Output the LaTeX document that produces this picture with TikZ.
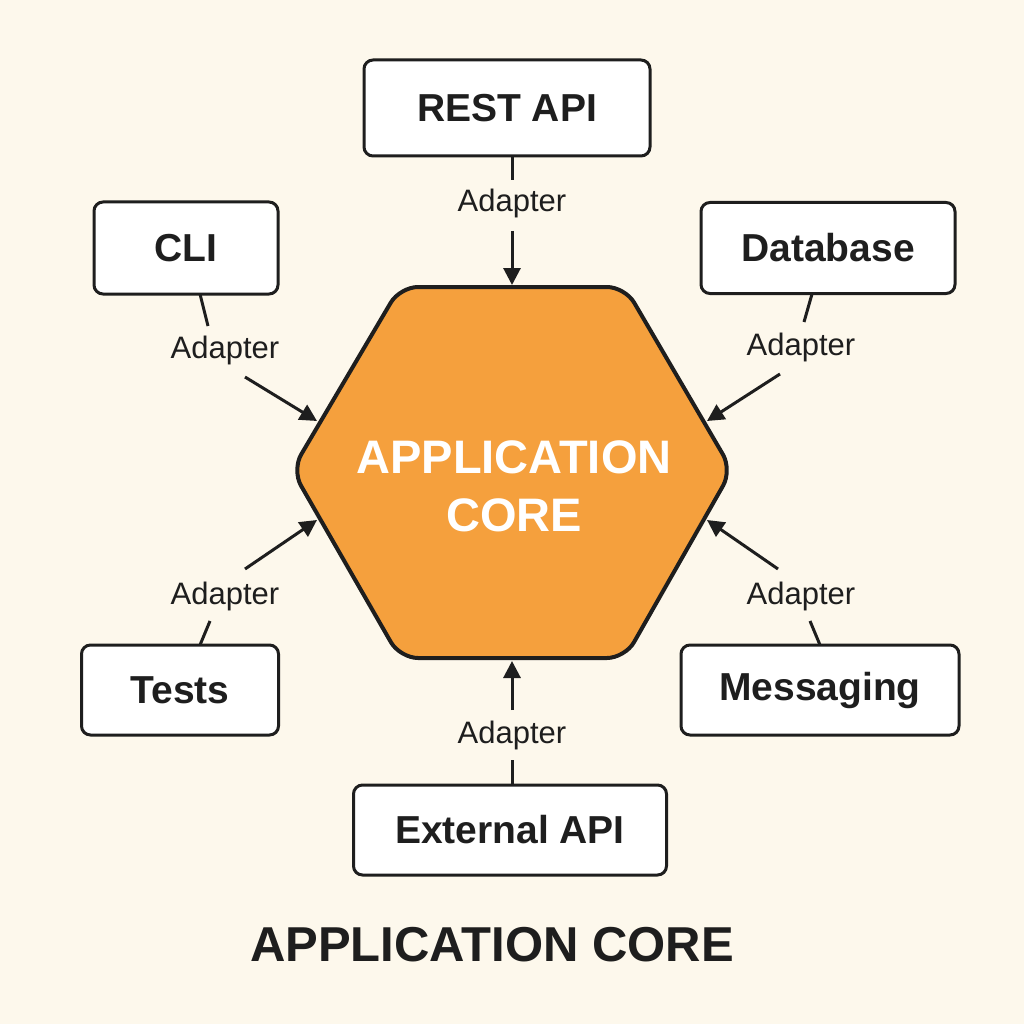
\documentclass[tikz,border=0pt]{standalone}
\usepackage{fontspec}
\setmainfont{Liberation Sans}
\usetikzlibrary{arrows.meta}
\definecolor{bg}{HTML}{FDF8EC}
\definecolor{core}{HTML}{F5A03D}
\definecolor{ink}{HTML}{1E1E1E}
\begin{document}
\begin{tikzpicture}[x=1pt,y=-1pt,
  box/.style={draw=ink,line width=3pt,rounded corners=9pt,fill=white,inner sep=0pt,font=\fontsize{39}{40}\selectfont\bfseries,text=ink},
  lab/.style={font=\fontsize{31}{32}\selectfont,text=ink,inner sep=0pt},
  ln/.style={draw=ink,line width=3pt},
  ar/.style={ln,-{Triangle[length=17pt,width=17pt]}}]
\fill[bg] (0,0) rectangle (1024,1024);
\useasboundingbox (0,0) rectangle (1024,1024);
\draw[ink,line width=4pt,fill=core,rounded corners=18pt]
  (400,287) -- (625,287) -- (732,470) -- (625,658) -- (400,658) -- (292,470) -- cycle;
\node[text=white,align=center,font=\fontsize{47}{58}\selectfont\bfseries] (core) at (514,486) {APPLICATION\\CORE};
\node[box,minimum width=286pt,minimum height=96pt] (rest) at (507,108) {REST API};
\node[box,minimum width=184pt,minimum height=92pt] (cli) at (186,248) {CLI};
\node[box,minimum width=254pt,minimum height=91pt] (db) at (828,248) {Database};
\node[box,minimum width=197pt,minimum height=90pt] (tests) at (180,690) {Tests};
\node[box,minimum width=278pt,minimum height=90pt] (msg) at (820,690) {Messaging};
\node[box,minimum width=313pt,minimum height=90pt] (ext) at (510,830) {External API};
\node[lab] (l1) at (512,203) {Adapter};
\node[lab] (l2) at (225,350) {Adapter};
\node[lab] (l3) at (801,347) {Adapter};
\node[lab] (l4) at (225,596) {Adapter};
\node[lab] (l5) at (801,596) {Adapter};
\node[lab] (l6) at (512,735) {Adapter};
\coordinate (t1) at (512,285); \coordinate (s1) at (512,231);
\coordinate (t2) at (317,421); \coordinate (s2) at (245,377);
\coordinate (t3) at (707,421); \coordinate (s3) at (780,374);
\coordinate (t4) at (317,520); \coordinate (s4) at (245,569);
\coordinate (t5) at (707,520); \coordinate (s5) at (778,569);
\coordinate (t6) at (512,661); \coordinate (s6) at (512,710);
\coordinate (r0) at (512,156);
\coordinate (e0) at (512,785);
\draw[ln] (r0) -- (512,180);
\draw[ln] (200,294) -- (208,326);
\draw[ln] (812,294) -- (804,322);
\draw[ln] (210,621) -- (200,645);
\draw[ln] (810,621) -- (820,645);
\draw[ln] (512,760) -- (e0);
\draw[ar] (s1) -- (t1);
\draw[ar] (s2) -- (t2);
\draw[ar] (s3) -- (t3);
\draw[ar] (s4) -- (t4);
\draw[ar] (s5) -- (t5);
\draw[ar] (s6) -- (t6);
\node[font=\fontsize{49}{50}\selectfont\bfseries,text=ink] (title) at (492,945) {APPLICATION CORE};
\end{tikzpicture}
\end{document}
